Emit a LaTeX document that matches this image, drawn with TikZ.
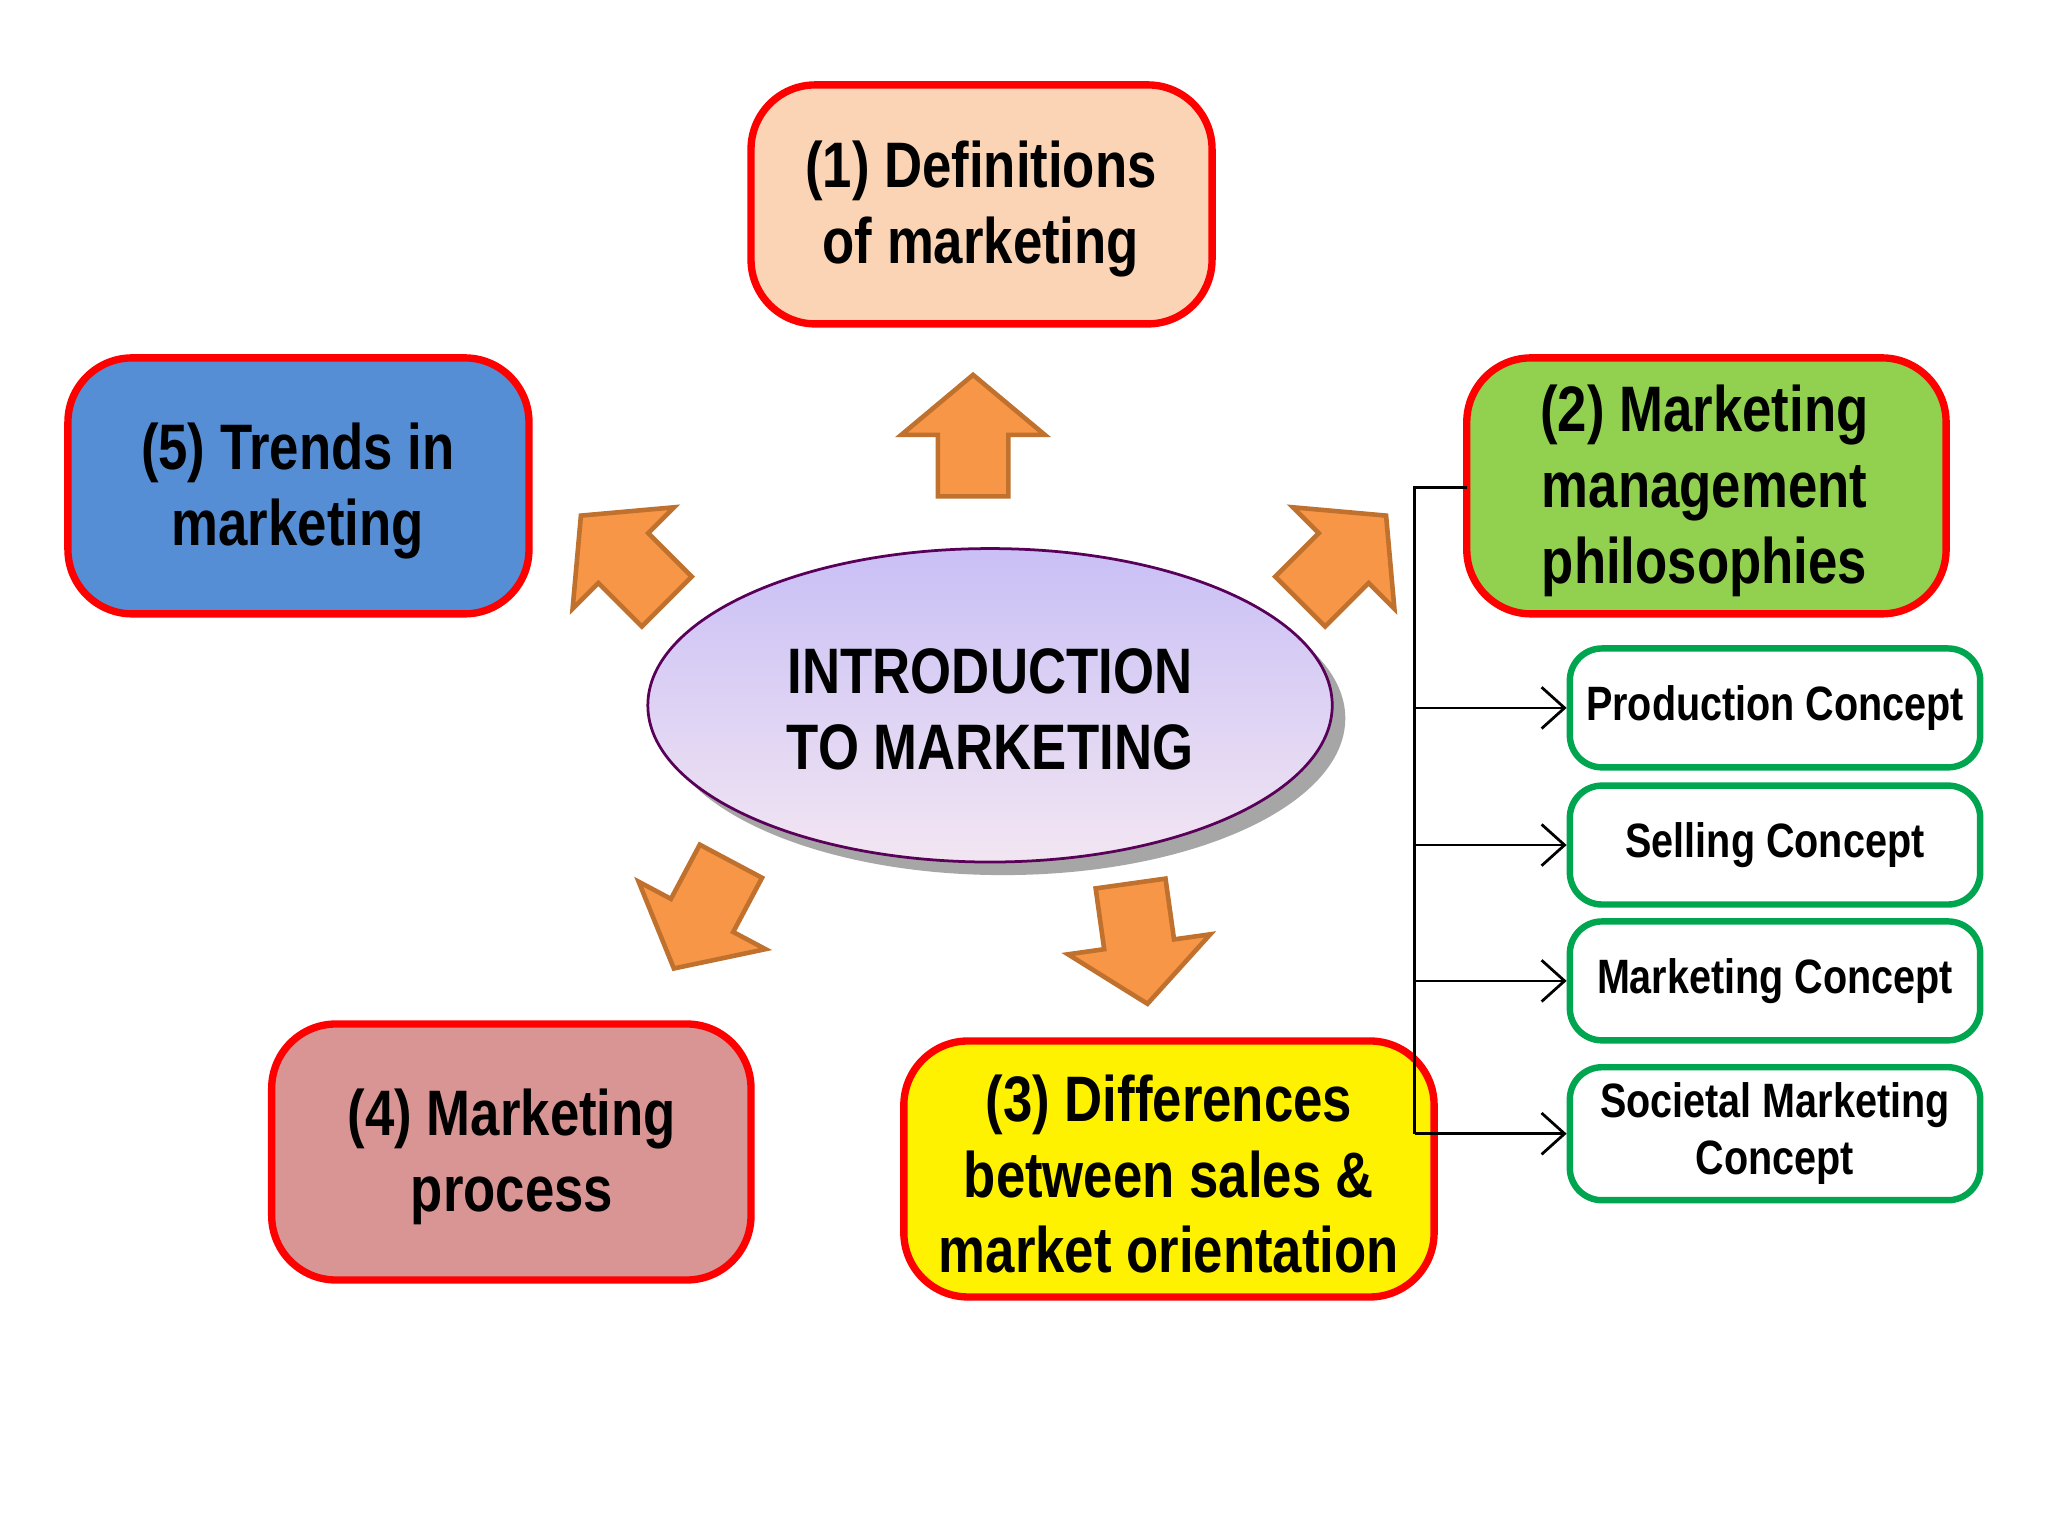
\documentclass[tikz,border=0pt]{standalone}
\usepackage{fontspec}
\setmainfont[FakeStretch=0.82]{Liberation Sans}
\usetikzlibrary{arrows.meta}
\definecolor{peach}{HTML}{FAD4B4}
\definecolor{blu}{HTML}{558ED5}
\definecolor{grn}{HTML}{92D050}
\definecolor{pnk}{HTML}{D99594}
\definecolor{orng}{HTML}{F79646}
\definecolor{orngd}{HTML}{C0712E}
\definecolor{gbord}{HTML}{00A550}
\tikzset{
 mainbox/.style={draw=red, line width=1.6pt, rounded corners=14pt},
 maintext/.style={align=center, font=\bfseries\fontsize{14}{16.5}\selectfont},
 subbox/.style={draw=gbord, line width=1.4pt, rounded corners=7pt, align=center, fill=white, font=\bfseries\fontsize{10.5}{12.5}\selectfont, minimum width=3.14cm, minimum height=0.91cm},
 blockarr/.style={fill=orng, draw=orngd, line width=1pt, line join=miter},
 conn/.style={draw=black, line width=0.6pt},
}
\newcommand\blockarrow[3]{\draw[blockarr, shift={(#1,#2)}, rotate=#3] (0,-47) -- (55,-1) -- (27,-1) -- (27,46) -- (-27,46) -- (-27,-1) -- (-55,-1) -- cycle;}
\begin{document}
\begin{tikzpicture}[x=0.01cm,y=-0.01cm]
\useasboundingbox[fill=white] (0,0) rectangle (1568,1176);
\path[mainbox, fill=peach] (575,65) rectangle (928,248);
\node[maintext] (t1) at (751,160) {(1) Definitions\\of marketing};
\path[mainbox, fill=blu] (52,274) rectangle (405,470);
\node[maintext] (t5) at (228,376) {(5) Trends in\\marketing};
\path[mainbox, fill=grn] (1123,274) rectangle (1490,470);
\node[maintext] (t2) at (1305,376) {(2) Marketing\\management\\philosophies};
\path[mainbox, fill=pnk] (208,784) rectangle (575,980);
\node[maintext] (t4) at (392,886) {(4) Marketing\\process};
\path[mainbox, fill=yellow] (692,797) rectangle (1098,993);
\node[maintext] (t3) at (895,899) {(3) Differences\\between sales \&\\market orientation};
\coordinate (b2) at (1123,373);
\fill[gray!70] (768,550) ellipse [x radius=262, y radius=120];
\shade[top color=violet!30!blue!25!white, bottom color=violet!10!white, draw=violet!70!black, line width=0.6pt] (758,540) ellipse [x radius=262, y radius=120];
\node[maintext] (c) at (758,543) {INTRODUCTION\\TO MARKETING};
\blockarrow{745}{334}{0}
\blockarrow{478}{428}{45}
\blockarrow{1028}{428}{-45}
\blockarrow{538}{700}{152}
\blockarrow{872}{722}{188}
\node[subbox] (p) at (1359,542) {Production Concept};
\node[subbox] (s) at (1359,647) {Selling Concept};
\node[subbox] (m) at (1359,751) {Marketing Concept};
\node[subbox] (so) at (1359,868) {Societal Marketing\\Concept};
\coordinate (bt) at (1083,373);
\coordinate (bb) at (1083,868);
\draw[conn] (b2) -- (bt) -- (bb);
\foreach \n in {p,s,m,so}{\draw[conn,-{Straight Barb[length=5pt,width=9pt]}] (bt |- \n.west) -- (\n.west);}
\end{tikzpicture}
\end{document}
